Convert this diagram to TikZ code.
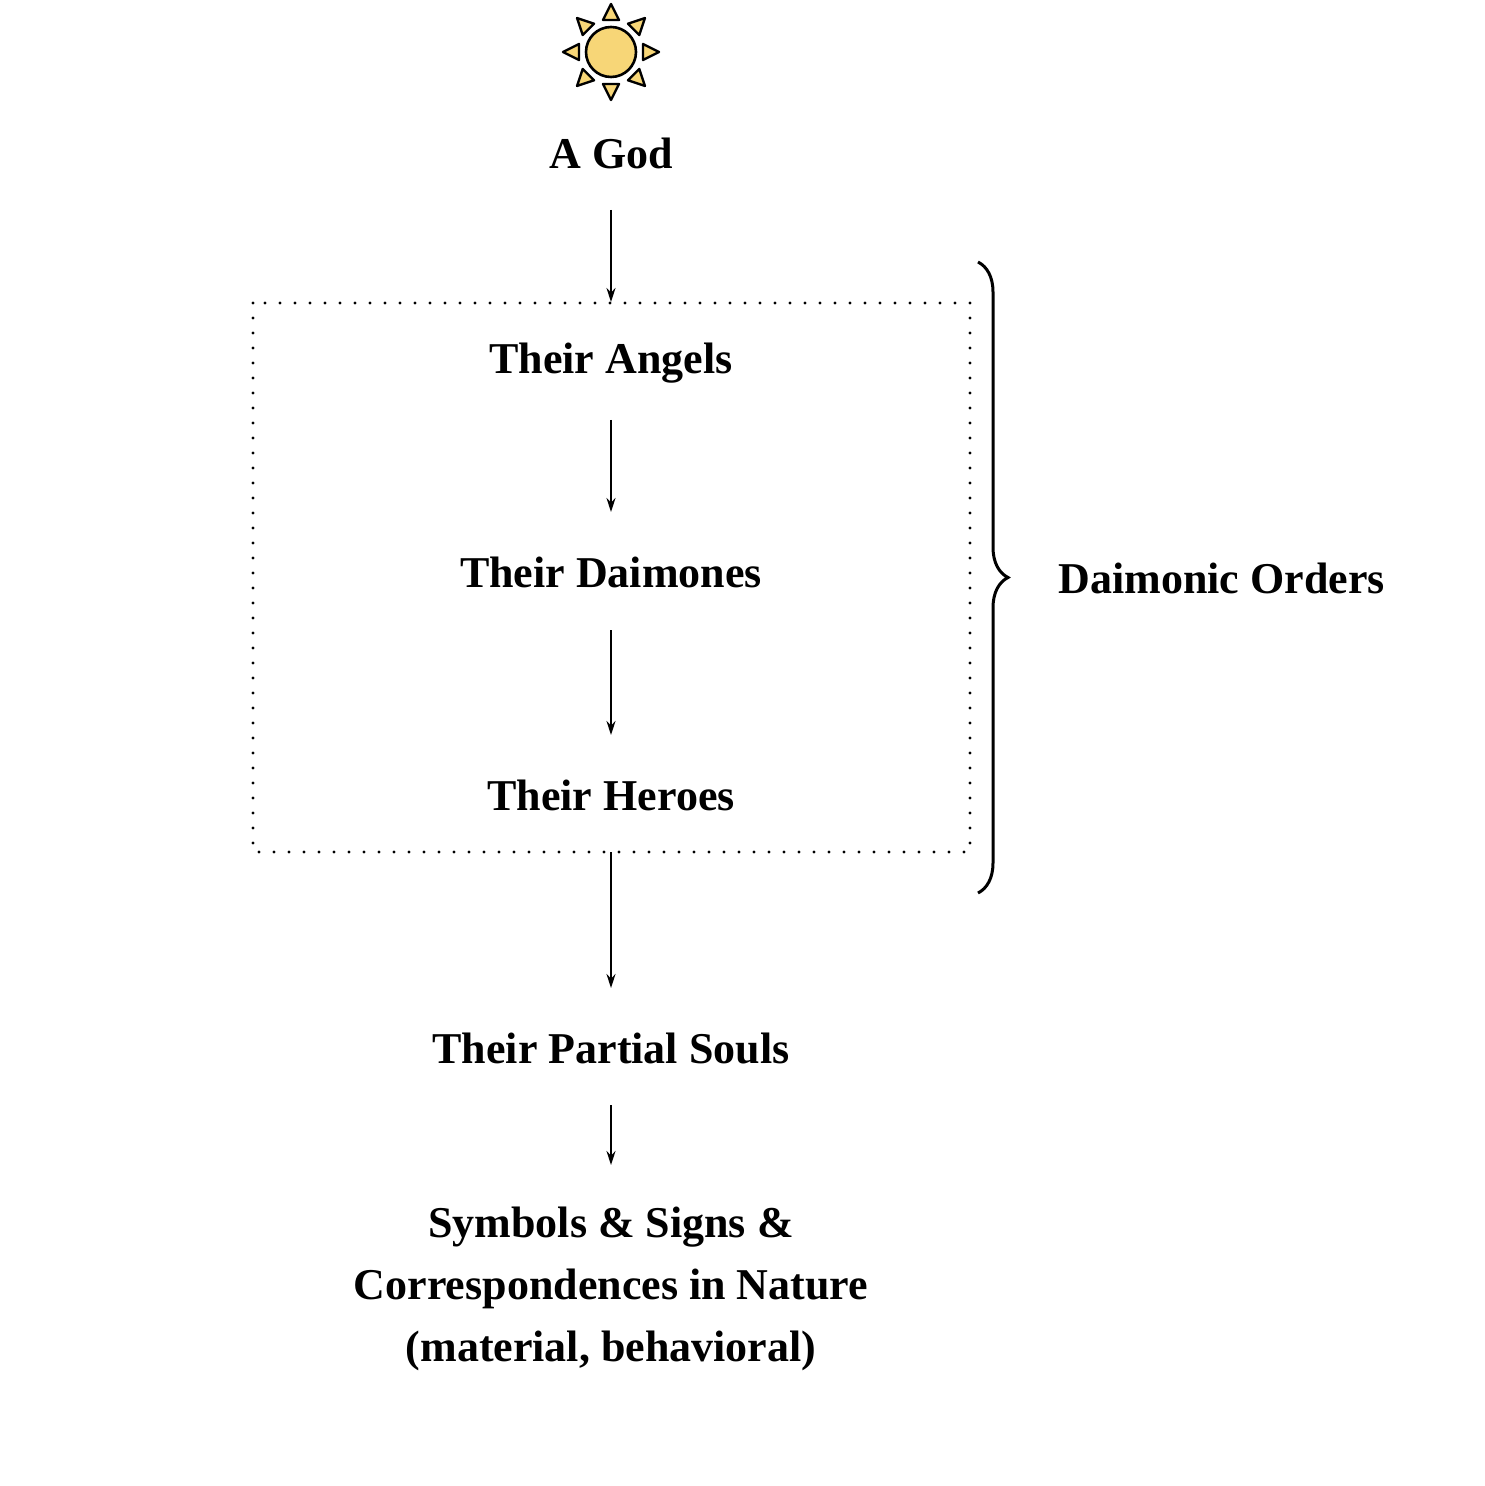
\documentclass[tikz,border=0pt]{standalone}
\usepackage{fontspec}
\setmainfont{Liberation Serif}
\usetikzlibrary{decorations.pathreplacing,arrows.meta}
\definecolor{sunfill}{HTML}{F7D677}
\tikzset{x=0.5pt,y=-0.5pt,
 lbl/.style={font=\fontsize{22}{31}\selectfont\bfseries,align=center,inner sep=0pt},
 flow/.style={-{Stealth[length=7pt,width=4.5pt]},line width=0.8pt}}
\begin{document}
\begin{tikzpicture}
\useasboundingbox (0,0) rectangle (1484,1486);
% sun
\coordinate (sun) at (611,52);
\foreach \a in {0,45,...,315}{
 \draw[fill=sunfill,line width=1.2pt,line join=round]
   ([shift={(\a-14:33)}]sun) -- ([shift={(\a:48)}]sun) -- ([shift={(\a+14:33)}]sun) -- cycle;
}
\draw[fill=sunfill,line width=1.3pt] (sun) circle[radius=12.5pt];
\node[lbl] (god) at (611,153) {A God};
\node[lbl] (ang) at (611,363) {Their Angels};
\node[lbl] (dai) at (611,572) {Their Daimones};
\node[lbl] (her) at (611,795) {Their Heroes};
\node[lbl] (par) at (611,1048) {Their Partial Souls};
\node[lbl] (sym) at (611,1289) {Symbols \& Signs \&\\Correspondences in Nature\\(material, behavioral)};
\node[lbl,anchor=west] (ord) at (1058,578) {Daimonic Orders};
\draw[line width=1.6pt,dotted,line cap=round,dash pattern=on 0pt off 7.5pt] (253,303) rectangle (970,852);
\coordinate (a1) at (611,210); \coordinate (a2) at (611,302);
\coordinate (b1) at (611,420); \coordinate (b2) at (611,512);
\coordinate (c1) at (611,630); \coordinate (c2) at (611,735);
\coordinate (d1) at (611,852); \coordinate (d2) at (611,988);
\coordinate (e1) at (611,1105); \coordinate (e2) at (611,1165);
\draw[flow] (a1) -- (a2);
\draw[flow] (b1) -- (b2);
\draw[flow] (c1) -- (c2);
\draw[flow] (d1) -- (d2);
\draw[flow] (e1) -- (e2);
\draw[line width=1.5pt,decorate,decoration={brace,amplitude=15pt,raise=0pt}] (978,262) -- (978,893);
\end{tikzpicture}
\end{document}
